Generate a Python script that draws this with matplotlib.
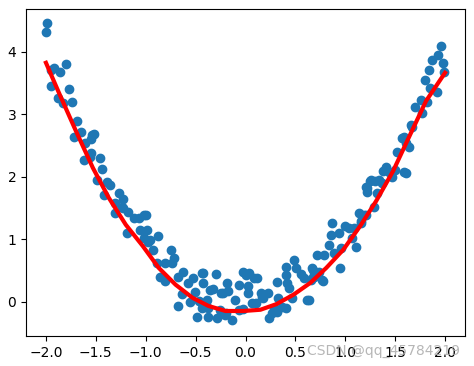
import numpy as np
import matplotlib
matplotlib.use("Agg")
import matplotlib.pyplot as plt

# scatter points (x, y)
x_pts = [
    -2.00, -1.99, -1.92, -1.95, -1.86, -1.80, -1.95, -1.77, -1.88, -1.83,
    -1.74, -1.69, -1.65, -1.72, -1.61, -1.54, -1.56, -1.62,
    -1.52, -1.55, -1.55, -1.46, -1.44, -1.49, -1.39, -1.36, -1.42, -1.27,
    -1.23, -1.31, -1.24, -1.31, -1.18, -1.12, -1.07, -1.02, -1.19, -1.06,
    -1.02, -0.98, -1.23,
    -1.00, -0.99, -0.96, -0.88, -0.93, -0.75, -0.89, -0.81, -0.72, -0.74,
    -0.86, -0.81, -0.68, -0.63, -0.58, -0.53, -0.44, -0.64, -0.51, -0.56,
    -0.68, -0.44, -0.49, -0.47, -0.38,
    -0.43, -0.30, -0.43, -0.36, -0.33, -0.19, -0.23, -0.07, -0.03, 0.04,
    0.09, 0.03, -0.39, -0.11, 0.07, -0.26, -0.21, -0.03, -0.29, -0.14,
    -0.38, -0.18, -0.25, 0.00, -0.20, -0.07,
    0.49, 0.41, 0.51, 0.56, 0.41, 0.32, 0.12, 0.42, 0.59, 0.44,
    0.68, 0.16, 0.23, 0.17, 0.47, 0.62, 0.11, 0.37, 0.29, 0.41,
    0.27, 0.24, 0.32, 0.03, 0.18, 0.33, 0.68, 0.78,
    1.21, 1.22, 1.14, 1.19, 0.87, 1.00, 1.04, 1.09, 1.16, 0.94,
    0.86, 1.07, 0.84, 1.11, 0.72, 0.79, 0.89, 0.96, 0.67, 0.74,
    0.95, 0.69, 0.77, 0.66, 0.64, 1.16,
    1.66, 1.57, 1.61, 1.52, 1.41, 1.44, 1.50, 1.59, 1.47, 1.26,
    1.34, 1.37, 1.22, 1.32, 1.29, 1.21, 1.25, 1.30, 1.38,
    1.96, 1.93, 1.87, 1.98, 1.99, 1.84, 1.80, 1.85, 1.92, 1.76,
    1.82, 1.70, 1.77, 1.67, 1.59, 1.64, 1.61,
]
y_pts = [
    4.32, 4.46, 3.73, 3.71, 3.68, 3.80, 3.45, 3.40, 3.26, 3.18,
    3.20, 2.89, 2.72, 2.63, 2.53, 2.67, 2.32, 2.26,
    2.68, 2.60, 2.37, 2.29, 2.12, 1.95, 1.92, 1.87, 1.71, 1.73,
    1.64, 1.57, 1.51, 1.42, 1.44, 1.33, 1.33, 1.39, 1.09, 1.15,
    1.01, 0.96, 1.50,
    1.39, 1.15, 0.99, 1.05, 0.83, 0.83, 0.61, 0.61, 0.69, 0.61,
    0.39, 0.33, 0.40, 0.48, 0.29, 0.37, 0.45, 0.12, 0.16, -0.01,
    -0.07, -0.11, -0.25, 0.01, -0.10,
    0.45, 0.44, 0.29, 0.19, 0.20, 0.29, 0.13, 0.27, 0.48, 0.45,
    0.37, 0.13, 0.03, 0.02, -0.03, -0.13, -0.21, -0.12, -0.27, -0.30,
    -0.24, 0.17, 0.14, 0.43, -0.18, -0.13,
    0.67, 0.56, 0.53, 0.44, 0.43, 0.32, 0.37, 0.29, 0.37, 0.21,
    0.40, 0.13, 0.13, 0.08, 0.05, 0.03, -0.03, -0.08, -0.11, -0.11,
    -0.19, -0.27, -0.16, 0.25, 0.06, 0.06, 0.51, 0.33,
    1.84, 1.76, 1.41, 1.39, 1.25, 1.21, 1.17, 1.17, 1.25, 1.09,
    1.07, 1.01, 0.91, 0.88, 0.75, 0.75, 0.78, 0.85, 0.53, 0.48,
    0.53, 0.40, 0.35, 0.35, 0.03, 1.29,
    2.83, 2.61, 2.53, 2.40, 2.16, 2.08, 2.11, 2.08, 2.00, 1.95,
    1.95, 1.89, 1.81, 1.73, 1.52, 1.39, 1.93, 1.93, 2.09,
    4.09, 3.95, 3.87, 3.82, 3.68, 3.71, 3.54, 3.41, 3.36, 3.23,
    3.20, 3.12, 3.01, 2.80, 2.64, 2.48, 2.05,
]

# red prediction curve
x_line = [-2.00, -1.87, -1.70, -1.53, -1.37, -1.20, -1.03, -0.87, -0.70,
          -0.53, -0.37, -0.20, -0.02, 0.15, 0.31, 0.48, 0.65, 0.81, 0.98,
          1.15, 1.31, 1.48, 1.65, 1.81, 2.00]
y_line = [3.82, 3.34, 2.73, 2.14, 1.66, 1.23, 0.89, 0.54, 0.27,
          0.06, -0.07, -0.15, -0.15, -0.13, -0.04, 0.11, 0.30, 0.54, 0.83,
          1.21, 1.61, 2.09, 2.67, 3.21, 3.66]

fig = plt.figure(figsize=(4.74, 3.66), dpi=100)
ax = fig.add_axes([26 / 474, 1 - 336 / 366, 439 / 474, 327 / 366])
ax.scatter(x_pts, y_pts)
ax.plot(x_line, y_line, "r-", lw=3)
ax.set_xlim(-2.2, 2.2)
ax.set_ylim(-0.55, 4.68)

# watermark
fig.text(0.971, 0.04, "CSDN @qq_45784219", ha="right", va="center",
         fontsize=10, color="#aaaaaa", alpha=0.85)

plt.savefig("out.png", dpi=100)
